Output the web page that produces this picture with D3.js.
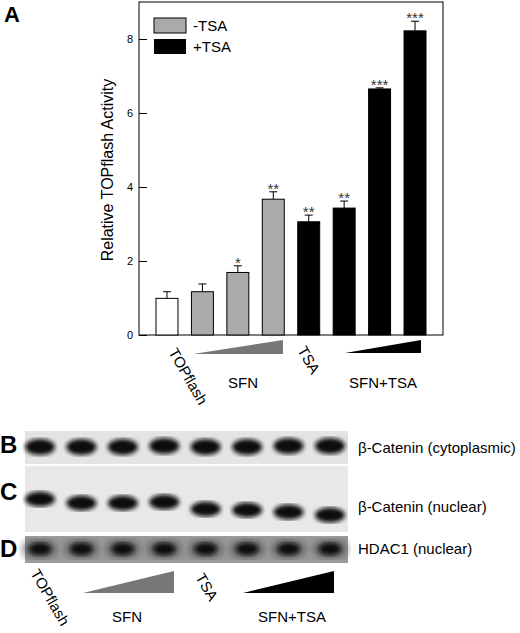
<!DOCTYPE html>
<html><head><meta charset="utf-8">
<script src="https://cdn.jsdelivr.net/npm/d3@7"></script>
<style>body{margin:0;background:#fff}svg{font-family:Arial,"Liberation Sans",sans-serif}</style>
</head><body><svg id="c" width="520" height="633"></svg>
<script>
const categories = ["TOPflash","SFN1","SFN2","SFN3","TSA","SFN+TSA1","SFN+TSA2","SFN+TSA3"];
const values = [0.99, 1.17, 1.69, 3.67, 3.06, 3.43, 6.65, 8.22];
const errors = [0.18, 0.21, 0.18, 0.2, 0.18, 0.19, 0.03, 0.26];
const groups = ["none","minus","minus","minus","plus","plus","plus","plus"];
const stars = ["", "", "*", "**", "**", "**", "***", "***"];
const yTicks = [0, 2, 4, 6, 8];
const bandB = [447,447,447,446,447,447,446,446];
const bandC = [499,503,503,502,509,510,512,515];
const bandD = [549,549,549,549,549,549,549,549];
const blotLabels = ["β-Catenin (cytoplasmic)","β-Catenin (nuclear)","HDAC1 (nuclear)"];

const svg = d3.select("#c");
const colors = {none:"#fff", minus:"#aaa", plus:"#000"};
const x = d3.scaleBand().domain(categories).range([156,426]).paddingInner(0.38);
const y = d3.scaleLinear().domain([0,9]).range([335,2]);

const defs = svg.append("defs");
defs.append("filter").attr("id","bl").append("feGaussianBlur").attr("stdDeviation",2.2);
defs.append("filter").attr("id","bl2").append("feGaussianBlur").attr("stdDeviation",4);

// frame
svg.append("rect").attr("x",139).attr("y",2).attr("width",304).attr("height",333).attr("fill","none").attr("stroke","#000");
const ax = svg.append("g").attr("transform","translate(139,0)").call(d3.axisLeft(y).tickValues(yTicks).tickSize(-8).tickPadding(6));
ax.select(".domain").remove();
ax.selectAll("text").attr("font-size",11).attr("font-family","Arial,sans-serif");
svg.append("text").attr("transform","translate(113,170) rotate(-90)").attr("text-anchor","middle").attr("font-size",16).text("Relative TOPflash Activity");
svg.append("text").attr("x",4).attr("y",22).attr("font-size",22).attr("font-weight","bold").text("A");

// bars
const g = svg.append("g");
categories.forEach((c,i)=>{
  const cx = x(c)+x.bandwidth()/2;
  g.append("line").attr("x1",cx).attr("x2",cx).attr("y1",y(values[i])).attr("y2",y(values[i]+errors[i])).attr("stroke","#000");
  g.append("line").attr("x1",cx-4).attr("x2",cx+4).attr("y1",y(values[i]+errors[i])).attr("y2",y(values[i]+errors[i])).attr("stroke","#000");
  g.append("rect").attr("x",x(c)).attr("y",y(values[i])).attr("width",x.bandwidth()).attr("height",y(0)-y(values[i]))
    .attr("fill",colors[groups[i]]).attr("stroke","#000");
  if (stars[i]) g.append("text").attr("x",cx).attr("y",y(values[i]+errors[i])+5 ).attr("text-anchor","middle").attr("font-size",15).attr("fill","#333").attr("dy","-3").text(stars[i]);
});

// legend
svg.append("rect").attr("x",154).attr("y",18).attr("width",32).attr("height",15).attr("fill","#aaa").attr("stroke","#000");
svg.append("rect").attr("x",154).attr("y",39).attr("width",32).attr("height",15).attr("fill","#000");
svg.append("text").attr("x",193).attr("y",31).attr("font-size",15).text("-TSA");
svg.append("text").attr("x",193).attr("y",52).attr("font-size",15).text("+TSA");

// x labels A
function tri(x0,x1,yb,yt,fill){svg.append("path").attr("d",`M${x0},${yb}L${x1},${yb}L${x1},${yt}Z`).attr("fill",fill);}
tri(193,283,354,340,"#777"); tri(345,421,353,340,"#000");
svg.append("text").attr("transform","translate(168,352) rotate(60)").attr("font-size",15).text("TOPflash");
svg.append("text").attr("transform","translate(297,350) rotate(60)").attr("font-size",15).text("TSA");
svg.append("text").attr("x",243).attr("y",388).attr("text-anchor","middle").attr("font-size",15).text("SFN");
svg.append("text").attr("x",383).attr("y",388).attr("text-anchor","middle").attr("font-size",15).text("SFN+TSA");

// blots
const bx = d3.scalePoint().domain(categories).range([40,330]);
function blot(y0,h,bg,bands,bw,bh,lbl,ly,letter,lty){
  svg.append("rect").attr("x",25).attr("y",y0).attr("width",323).attr("height",h).attr("fill",bg);
  bands.forEach((by,i)=>svg.append("ellipse").attr("cx",bx(categories[i])).attr("cy",by).attr("rx",bw).attr("ry",bh).attr("fill","#111").attr("filter","url(#bl)"));
  svg.append("text").attr("x",358).attr("y",ly).attr("font-size",15).text(lbl);
  svg.append("text").attr("x",0).attr("y",lty).attr("font-size",24).attr("font-weight","bold").text(letter);
}
blot(431,33,"#e4e4e4",bandB,15,8,blotLabels[0],453,"B",453);
blot(466,66,"#e8e8e8",bandC,15,7.5,blotLabels[1],512,"C",500);
svg.append("rect").attr("x",25).attr("y",536).attr("width",323).attr("height",27).attr("fill","#9a9a9a");
bandD.forEach((by,i)=>svg.append("ellipse").attr("cx",bx(categories[i])).attr("cy",by).attr("rx",17).attr("ry",9).attr("fill","#555").attr("filter","url(#bl2)"));
bandD.forEach((by,i)=>svg.append("ellipse").attr("cx",bx(categories[i])).attr("cy",by).attr("rx",11).attr("ry",6).attr("fill","#111").attr("filter","url(#bl)"));
svg.append("text").attr("x",358).attr("y",554).attr("font-size",15).text(blotLabels[2]);
svg.append("text").attr("x",0).attr("y",557).attr("font-size",24).attr("font-weight","bold").text("D");

tri(83,174,593,571,"#777"); tri(243,334,593,571,"#000");
svg.append("text").attr("transform","translate(30,573) rotate(60)").attr("font-size",15).text("TOPflash");
svg.append("text").attr("transform","translate(195,577) rotate(60)").attr("font-size",15).text("TSA");
svg.append("text").attr("x",127).attr("y",622).attr("text-anchor","middle").attr("font-size",15).text("SFN");
svg.append("text").attr("x",292).attr("y",622).attr("text-anchor","middle").attr("font-size",15).text("SFN+TSA");
</script></body></html>
